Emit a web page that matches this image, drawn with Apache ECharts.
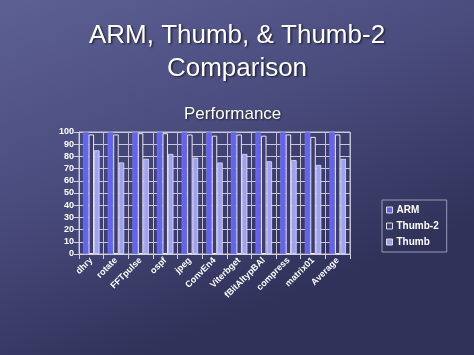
<!DOCTYPE html>
<html><head><meta charset="utf-8">
<script src="https://cdn.jsdelivr.net/npm/echarts@6/dist/echarts.min.js"></script>
<style>html,body{margin:0;padding:0;}#c{width:474px;height:355px;}</style>
</head><body><div id="c"></div>
<script>
const categories = ["dhry","rotate","FFTpulse","ospf","jpeg","ConvEn4","Viterbget","fBitAltypBAl","compress","matrix01","Average"];
const armValues = [100,100,100,100,100,100,100,100,100,100,100];
const thumb2Values = [98,98,99,99,98,97,98,97,98,96,98];
const thumbValues = [85,75,78,82,79,75,82,76,77,73,78];
const yTicks = [0,10,20,30,40,50,60,70,80,90,100];

const chart = echarts.init(document.getElementById('c'));
const F = 'Liberation Sans, Arial, sans-serif';
chart.setOption({
  animation:false,
  backgroundColor:{type:'linear',x:0,y:0,x2:0.3,y2:1,colorStops:[{offset:0,color:'#5d6093'},{offset:0.5,color:'#4a4c7e'},{offset:1,color:'#31325a'}]},
  title:[
    {text:'ARM, Thumb, & Thumb-2\nComparison',left:'center',top:14,textStyle:{color:'#ffffff',fontFamily:F,fontWeight:'normal',fontSize:26,lineHeight:33,textShadowColor:'rgba(0,0,0,0.6)',textShadowBlur:2,textShadowOffsetX:1.5,textShadowOffsetY:1.5}},
    {text:'Performance',left:179,top:101,textStyle:{color:'#ffffff',fontFamily:F,fontWeight:'normal',fontSize:17,textShadowColor:'rgba(0,0,0,0.6)',textShadowBlur:2,textShadowOffsetX:1,textShadowOffsetY:1}}
  ],
  legend:{orient:'vertical',left:382,top:200,itemWidth:6,itemHeight:6,itemGap:6,padding:[5,8,5,4],icon:'rect',
    borderColor:'#9a9ab8',borderWidth:1,
    textStyle:{color:'#ffffff',fontFamily:F,fontWeight:'bold',fontSize:10,padding:[0,0,0,-1]},
    data:[{name:'ARM',itemStyle:{borderColor:'#ddd',borderWidth:1}},{name:'Thumb-2',itemStyle:{borderColor:'#ddd',borderWidth:1}},{name:'Thumb',itemStyle:{borderColor:'#ddd',borderWidth:1}}]},
  grid:{left:79,right:124,top:132,bottom:101,show:true,borderColor:'#c8c8d8',borderWidth:1,backgroundColor:'rgba(40,40,80,0.15)'},
  xAxis:{type:'category',data:categories,
    axisLine:{lineStyle:{color:'#d0d0e0',width:1}},
    axisTick:{show:true,alignWithLabel:false,lineStyle:{color:'#d0d0e0'}},
    splitLine:{show:true,lineStyle:{color:'#bfbfd0',width:1}},
    axisLabel:{rotate:45,color:'#ffffff',fontFamily:F,fontWeight:'bold',fontSize:9,margin:5,interval:0}},
  yAxis:{type:'value',min:0,max:100,interval:10,
    axisLine:{show:true,lineStyle:{color:'#d0d0e0'}},
    axisTick:{show:true,lineStyle:{color:'#d0d0e0'}},
    splitLine:{lineStyle:{color:'#c8c8d8',width:1}},
    axisLabel:{color:'#ffffff',fontFamily:F,fontWeight:'bold',fontSize:9,margin:5,customValues:yTicks}},
  series:[
    {name:'ARM',type:'bar',data:armValues,barWidth:5.5,barGap:'0%',barCategoryGap:'33%',itemStyle:{color:'#6262f6',borderColor:'#8a8ad0',borderWidth:0.5}},
    {name:'Thumb-2',type:'bar',data:thumb2Values,barWidth:5.5,barGap:'0%',itemStyle:{color:'#3d3d6e',borderColor:'#e8e8f4',borderWidth:1}},
    {name:'Thumb',type:'bar',data:thumbValues,barWidth:5.5,barGap:'0%',itemStyle:{color:'#a0a0f4',borderColor:'#e0e0f8',borderWidth:0.8}}
  ]
});
</script></body></html>
